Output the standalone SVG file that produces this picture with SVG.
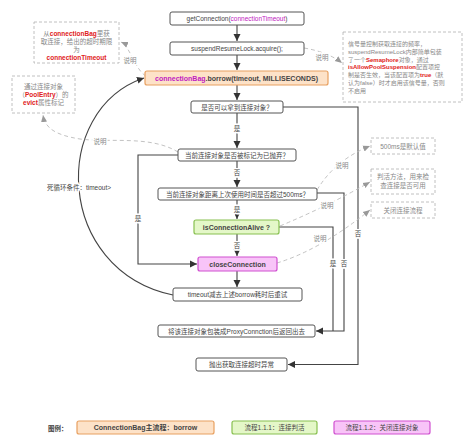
<svg xmlns="http://www.w3.org/2000/svg" width="474" height="447" viewBox="0 0 474 447">
<defs>
<style>
text{font-family:"Liberation Sans","Noto Sans CJK SC",sans-serif;font-size:6.5px;fill:#444;}
.c{text-anchor:middle;}
.b{font-weight:bold;}
.m{fill:#c020c0;}
.r{fill:#e02020;font-weight:bold;}
.g{fill:#888;}
.nc{font-size:6px;}
.box{fill:#fff;stroke:#555;stroke-width:1;}
.or{fill:#fde2c8;stroke:#e8a060;stroke-width:1.2;}
.gr{fill:#e4f7c8;stroke:#88c050;stroke-width:1.2;}
.mg{fill:#f8c4f8;stroke:#d050d0;stroke-width:1.2;}
.note{fill:#fff;stroke:#b0b0b0;stroke-width:0.8;stroke-dasharray:3,2;}
.ln{fill:none;stroke:#444;stroke-width:1.1;}
.dl{fill:none;stroke:#bbb;stroke-width:0.9;stroke-dasharray:4,3;}
.lb{paint-order:stroke;stroke:#fff;stroke-width:3px;text-anchor:middle;}
</style>
<marker id="ar" markerUnits="userSpaceOnUse" markerWidth="8" markerHeight="8" refX="7" refY="4" orient="auto">
<path d="M0,0.5 L7,4 L0,7.5 Z" fill="#333"/>
</marker>
<marker id="ad" markerUnits="userSpaceOnUse" markerWidth="8" markerHeight="8" refX="7" refY="4" orient="auto">
<path d="M0,1 L7,4 L0,7 Z" fill="#999"/>
</marker>
</defs>
<rect width="474" height="447" fill="#fff"/>

<g id="connectors">
<path class="ln" d="M237,25 V41" marker-end="url(#ar)"/>
<path class="ln" d="M237,55 V70" marker-end="url(#ar)"/>
<path class="ln" d="M237,85 V100" marker-end="url(#ar)"/>
<path class="ln" d="M237,113 V148" marker-end="url(#ar)"/>
<path class="ln" d="M237,161 V187" marker-end="url(#ar)"/>
<path class="ln" d="M237,200 V219" marker-end="url(#ar)"/>
<path class="ln" d="M237,234 V256" marker-end="url(#ar)"/>
<path class="ln" d="M237,271 V287" marker-end="url(#ar)"/>
<path class="ln" d="M283,107 H358 V364.5 H288" marker-end="url(#ar)"/>
<path class="ln" d="M317,193 H344 V331 H316" marker-end="url(#ar)"/>
<path class="ln" d="M279,227 H333 V331"/>
<path class="ln" d="M178,155 H138 V264 H197" marker-end="url(#ar)"/>
<path class="ln" d="M173,295 C55,270 50,110 144,78" marker-end="url(#ar)"/>

<path class="dl" d="M146,76 C135,70 130,46 121,42" marker-end="url(#ad)"/>
<path class="dl" d="M178,152 C150,135 110,143 80,139 C55,135 45,128 43,115" marker-end="url(#ad)"/>
<path class="dl" d="M304,48 Q328,52 342,63" marker-end="url(#ad)"/>
<path class="dl" d="M317,190 Q335,160 370,146" marker-end="url(#ad)"/>
<path class="dl" d="M280,226 Q330,205 370,182" marker-end="url(#ad)"/>
<path class="dl" d="M277,263 Q320,250 370,210" marker-end="url(#ad)"/>

<text class="lb" x="237" y="131">是</text>
<text class="lb" x="237" y="175">否</text>
<text class="lb" x="237" y="212">是</text>
<text class="lb" x="237" y="248">否</text>
<text class="lb" x="358" y="236">否</text>
<text class="lb" x="344" y="266">否</text>
<text class="lb" x="333" y="266">是</text>
<text class="lb" x="138" y="221">是</text>
<text class="lb" x="79" y="190">死循环条件：timeout&gt;</text>
<text class="lb g" x="130" y="63">说明</text>
<text class="lb g" x="100" y="144">说明</text>
<text class="lb g" x="322" y="60">说明</text>
<text class="lb g" x="342" y="168">说明</text>
<text class="lb g" x="327" y="208">说明</text>
<text class="lb g" x="320" y="241">说明</text>
</g>

<g id="n1"><rect class="box" x="170" y="12" width="134" height="13" rx="2"/>
<text class="c" x="237" y="20.8">getConnection(<tspan class="m">connectionTimeout</tspan>)</text></g>
<g id="n2"><rect class="box" x="170" y="42" width="134" height="13" rx="2"/>
<text class="c" x="237" y="50.8">suspendResumeLock.acquire();</text></g>
<g id="n3"><rect class="or" x="145" y="71" width="183" height="14" rx="2"/>
<text class="c b" x="236.5" y="80.5" style="font-size:7px"><tspan class="m">connectionBag</tspan>.borrow(timeout, MILLISECONDS)</text></g>
<g id="n4"><rect class="box" x="191" y="101" width="92" height="12" rx="2"/>
<text class="c" x="237" y="109.5">是否可以拿到连接对象？</text></g>
<g id="n5"><rect class="box" x="178" y="149" width="118" height="12" rx="2"/>
<text class="c" x="237" y="157.5">当前连接对象是否被标记为已抛弃？</text></g>
<g id="n6"><rect class="box" x="158" y="188" width="159" height="12" rx="2"/>
<text class="c" x="237.5" y="196.5">当前连接对象距离上次使用时间是否超过500ms？</text></g>
<g id="n7"><rect class="gr" x="194" y="220" width="85" height="14" rx="2"/>
<text class="c b" x="236.5" y="229.5" style="font-size:7px">isConnectionAlive ?</text></g>
<g id="n8"><rect class="mg" x="198" y="257" width="79" height="14" rx="2"/>
<text class="c b" x="237.5" y="266.5" style="font-size:7px">closeConnection</text></g>
<g id="n9"><rect class="box" x="173" y="288" width="129" height="13" rx="2"/>
<text class="c" x="237.5" y="296.8">timeout减去上述borrow耗时后重试</text></g>
<g id="n10"><rect class="box" x="158" y="325" width="157" height="12" rx="2"/>
<text class="c" x="236.5" y="333.5">将该连接对象包装成ProxyConnction后返回出去</text></g>
<g id="n11"><rect class="box" x="196" y="358" width="91" height="13" rx="2"/>
<text class="c" x="241.5" y="366.8">抛出获取连接超时异常</text></g>

<g id="noteA"><rect class="note" x="34" y="22" width="85" height="41"/>
<text class="c g" x="76.5" y="36">从<tspan class="r">connectionBag</tspan>里获</text>
<text class="c g" x="76.5" y="44">取连接，给出的超时期限</text>
<text class="c g" x="76.5" y="52">为</text>
<text class="c r" x="76.5" y="60">connectionTimeout</text></g>

<g id="noteB"><rect class="note" x="12" y="76" width="63" height="37"/>
<text class="c g" x="43.5" y="89">通过连接对象</text>
<text class="c g" x="43.5" y="97">（<tspan class="r">PoolEntry</tspan>）的</text>
<text class="c g" x="43.5" y="105"><tspan class="r">evict</tspan>属性标记</text></g>

<g id="noteC"><rect class="note" x="343" y="32" width="119" height="70"/>
<text class="g nc" x="348" y="46">信号量控制获取连接的频率，</text>
<text class="g nc" x="348" y="53.8">suspendResumeLock内部简单包装</text>
<text class="g nc" x="348" y="61.6">了一个<tspan class="r">Semaphore</tspan>对象，通过</text>
<text class="g nc" x="348" y="69.4"><tspan class="r">isAllowPoolSuspension</tspan>配置项控</text>
<text class="g nc" x="348" y="77.2">制是否生效，当该配置项为<tspan class="r">true</tspan>（默</text>
<text class="g nc" x="348" y="85">认为false）时才启用该信号量，否则</text>
<text class="g nc" x="348" y="92.8">不启用</text></g>

<g id="noteD"><rect class="note" x="371" y="138" width="64" height="16"/>
<text class="c g" x="403" y="148.5">500ms是默认值</text></g>
<g id="noteE"><rect class="note" x="371" y="169" width="64" height="25"/>
<text class="c g" x="403" y="179">判活方法，用来检</text>
<text class="c g" x="403" y="188">查连接是否可用</text></g>
<g id="noteF"><rect class="note" x="371" y="202" width="64" height="16"/>
<text class="c g" x="403" y="212.5">关闭连接流程</text></g>

<g id="legend">
<text class="b" x="48" y="430.5">图例：</text>
<rect class="or" x="77" y="421" width="137" height="13" rx="2"/>
<text class="c b" x="145.5" y="430" style="font-size:7px">ConnectionBag主流程：borrow</text>
<rect class="gr" x="232" y="421" width="85" height="13" rx="2"/>
<text class="c" x="274.5" y="430">流程1.1.1：连接判活</text>
<rect class="mg" x="334" y="421" width="96" height="13" rx="2"/>
<text class="c" x="382" y="430">流程1.1.2：关闭连接对象</text>
</g>
</svg>
